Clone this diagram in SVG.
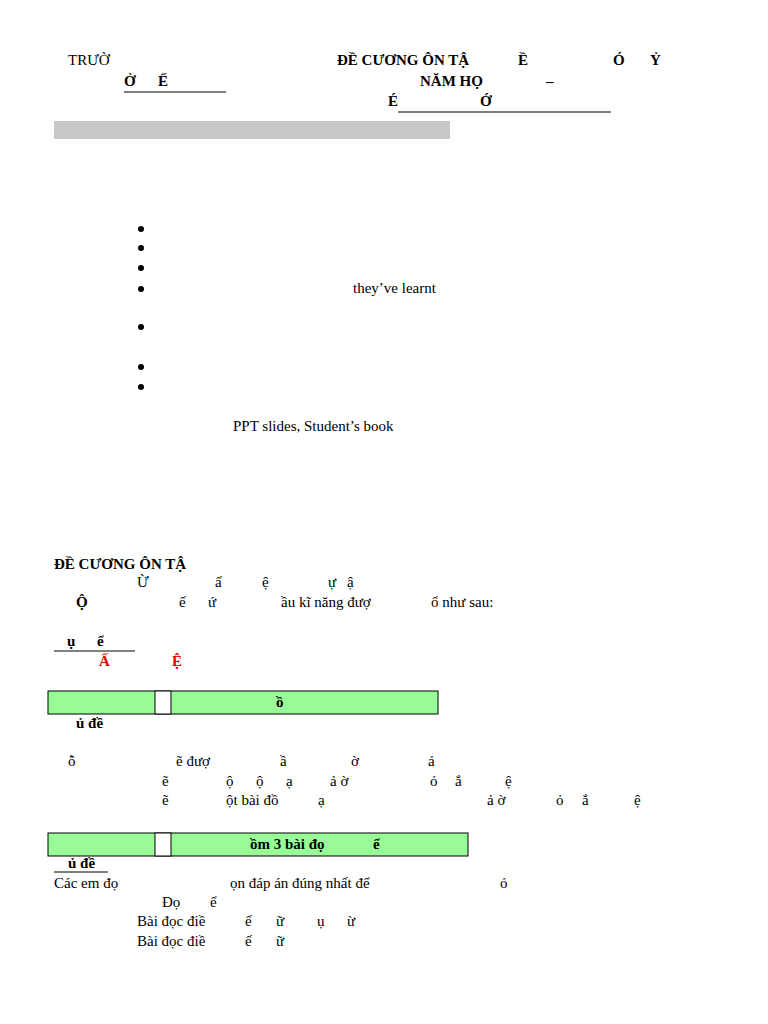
<svg xmlns="http://www.w3.org/2000/svg" width="768" height="1024" viewBox="0 0 768 1024">
<style>
text{font-family:"Liberation Serif","Times New Roman",serif;font-size:15px;fill:#000}
.b{font-weight:bold}
.r{fill:#e00000;font-weight:bold}
.g{fill:#98fb98;stroke:#000;stroke-width:1}
.w{fill:#fff;stroke:#000;stroke-width:1}
line{stroke:#000;stroke-width:1}
</style>
<rect width="768" height="1024" fill="#fff"/>
<g id="header">
<text x="68" y="65">TRƯỜ</text>
<text class="b" x="337" y="65">ĐỀ CƯƠNG ÔN TẬ</text>
<text class="b" x="518" y="65">Ề</text>
<text class="b" x="613" y="65">Ó</text>
<text class="b" x="650" y="65">Ỷ</text>
<text class="b" x="124" y="86">Ở</text>
<text class="b" x="158" y="86">Ế</text>
<line x1="124" y1="92" x2="226" y2="92"/>
<text class="b" x="420" y="86">NĂM HỌ</text>
<text class="b" x="546" y="86">–</text>
<text class="b" x="388" y="106">É</text>
<text class="b" x="480" y="106">Ớ</text>
<line x1="398" y1="112" x2="611" y2="112"/>
<rect x="54" y="121" width="396" height="18" fill="#c8c8c8"/>
</g>
<g id="bullets">
<circle cx="141" cy="229" r="3"/>
<circle cx="141" cy="248" r="3"/>
<circle cx="141" cy="268" r="3"/>
<circle cx="141" cy="289" r="3"/>
<circle cx="141" cy="327" r="3"/>
<circle cx="141" cy="367" r="3"/>
<circle cx="141" cy="387" r="3"/>
<text x="353" y="293">they’ve learnt</text>
<text x="233" y="431">PPT slides, Student’s book</text>
</g>
<g id="section">
<text class="b" x="54" y="569">ĐỀ CƯƠNG ÔN TẬ</text>
<text x="137" y="587">Ừ</text><text x="215" y="587">ấ</text><text x="262" y="587">ệ</text><text x="328" y="587">ự</text><text x="347" y="587">ậ</text>
<text class="b" x="76" y="607">Ộ</text><text x="179" y="607">ế</text><text x="208" y="607">ứ</text><text x="281" y="607">ầu kĩ năng đượ</text><text x="431" y="607">ổ như sau:</text>
<text class="b" x="67" y="646">ụ</text><text class="b" x="97" y="646">ể</text>
<line x1="54" y1="651" x2="135" y2="651"/>
<text class="r" x="99" y="666">Ấ</text><text class="r" x="172" y="666">Ệ</text>
</g>
<g id="bar1">
<rect class="g" x="48" y="691" width="390" height="23"/>
<rect class="w" x="155" y="691" width="16" height="23"/>
<text class="b" x="276" y="707">ồ</text>
</g>
<g id="part1">
<text class="b" x="76" y="728">ủ đề</text>
<text x="68" y="766">ỗ</text><text x="176" y="766">ẽ đượ</text><text x="280" y="766">ầ</text><text x="351" y="766">ờ</text><text x="428" y="766">ả</text>
<text x="162" y="786">ẽ</text><text x="226" y="786">ộ</text><text x="256" y="786">ộ</text><text x="286" y="786">ạ</text><text x="330" y="786">ả ờ</text><text x="430" y="786">ỏ</text><text x="455" y="786">ắ</text><text x="505" y="786">ệ</text>
<text x="162" y="805">ẽ</text><text x="226" y="805">ột bài đồ</text><text x="318" y="805">ạ</text><text x="487" y="805">ả ờ</text><text x="556" y="805">ỏ</text><text x="582" y="805">ắ</text><text x="634" y="805">ệ</text>
</g>
<g id="bar2">
<rect class="g" x="48" y="833" width="420" height="23"/>
<rect class="w" x="155" y="833" width="16" height="23"/>
<text class="b" x="250" y="849">ồm 3 bài đọ</text><text class="b" x="373" y="849">ể</text>
</g>
<g id="part2">
<text class="b" x="68" y="868">ủ đề</text>
<line x1="54" y1="872" x2="108" y2="872"/>
<text x="54" y="888">Các em đọ</text><text x="230" y="888">ọn đáp án đúng nhất để</text><text x="500" y="888">ỏ</text>
<text x="162" y="907">Đọ</text><text x="210" y="907">ể</text>
<text x="137" y="926">Bài đọc điề</text><text x="245" y="926">ế</text><text x="276" y="926">ữ</text><text x="317" y="926">ụ</text><text x="347" y="926">ừ</text>
<text x="137" y="946">Bài đọc điề</text><text x="245" y="946">ế</text><text x="276" y="946">ữ</text>
</g>
</svg>
